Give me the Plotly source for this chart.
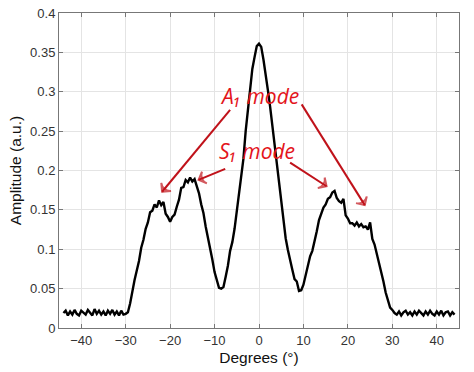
import plotly.graph_objects as go

degrees = [
    -44, -43.5, -43, -42.5, -42, -41.5, -41, -40.5, -40, -39.5, -39, -38.5, -38, -37.5,
    -37, -36.5, -36, -35.5, -35, -34.5, -34, -33.5, -33, -32.5, -32, -31.5, -31, -30.5,
    -30, -29.5, -29, -28.5, -28, -27.5, -27, -26.5, -26, -25.5, -25, -24.5, -24, -23.5,
    -23, -22.5, -22, -21.5, -21, -20.5, -20, -19.5, -19, -18.5, -18, -17.5, -17, -16.5,
    -16, -15.5, -15, -14.5, -14, -13.5, -13, -12.5, -12, -11.5, -11, -10.5, -10, -9.5,
    -9, -8.5, -8, -7.5, -7, -6.5, -6, -5.5, -5, -4.5, -4, -3.5, -3, -2.5,
    -2, -1.5, -1, -0.5, 0, 0.5, 1, 1.5, 2, 2.5, 3, 3.5, 4, 4.5,
    5, 5.5, 6, 6.5, 7, 7.5, 8, 8.5, 9, 9.5, 10, 10.5, 11, 11.5,
    12, 12.5, 13, 13.5, 14, 14.5, 15, 15.5, 16, 16.5, 17, 17.5, 18, 18.5,
    19, 19.5, 20, 20.5, 21, 21.5, 22, 22.5, 23, 23.5, 24, 24.5, 25, 25.5,
    26, 26.5, 27, 27.5, 28, 28.5, 29, 29.5, 30, 30.5, 31, 31.5, 32, 32.5,
    33, 33.5, 34, 34.5, 35, 35.5, 36, 36.5, 37, 37.5, 38, 38.5, 39, 39.5,
    40, 40.5, 41, 41.5, 42, 42.5, 43, 43.5, 44,
]

amplitude = [
    0.019, 0.022, 0.016, 0.021, 0.017, 0.023, 0.018, 0.016, 0.022, 0.019, 0.017, 0.023, 0.020, 0.016,
    0.024, 0.018, 0.022, 0.017, 0.021, 0.016, 0.022, 0.018, 0.023, 0.017, 0.021, 0.016, 0.022, 0.017,
    0.018, 0.020, 0.031, 0.047, 0.061, 0.073, 0.085, 0.102, 0.112, 0.126, 0.134, 0.147, 0.149, 0.157,
    0.153, 0.162, 0.156, 0.160, 0.145, 0.141, 0.135, 0.141, 0.144, 0.154, 0.163, 0.178, 0.179, 0.188,
    0.185, 0.191, 0.186, 0.189, 0.179, 0.171, 0.157, 0.146, 0.129, 0.116, 0.099, 0.087, 0.071, 0.061,
    0.051, 0.050, 0.052, 0.065, 0.079, 0.098, 0.109, 0.126, 0.147, 0.168, 0.194, 0.215, 0.250, 0.276,
    0.300, 0.329, 0.344, 0.358, 0.361, 0.357, 0.341, 0.323, 0.302, 0.281, 0.257, 0.233, 0.204, 0.186,
    0.162, 0.139, 0.114, 0.099, 0.084, 0.074, 0.062, 0.059, 0.047, 0.048, 0.055, 0.067, 0.079, 0.091,
    0.098, 0.113, 0.123, 0.137, 0.144, 0.153, 0.157, 0.164, 0.166, 0.172, 0.174, 0.165, 0.161, 0.159,
    0.164, 0.143, 0.139, 0.133, 0.133, 0.130, 0.134, 0.129, 0.132, 0.128, 0.129, 0.125, 0.134, 0.113,
    0.106, 0.094, 0.086, 0.071, 0.059, 0.045, 0.036, 0.026, 0.023, 0.019, 0.017, 0.021, 0.016, 0.020,
    0.022, 0.017, 0.020, 0.016, 0.021, 0.017, 0.022, 0.019, 0.016, 0.021, 0.017, 0.022, 0.018, 0.016,
    0.021, 0.017, 0.022, 0.016, 0.020, 0.021, 0.016, 0.020, 0.017,
]

x_ticks = [-40, -30, -20, -10, 0, 10, 20, 30, 40]
y_ticks = [0, 0.05, 0.1, 0.15, 0.2, 0.25, 0.3, 0.35, 0.4]
y_tick_labels = ["0", "0.05", "0.1", "0.15", "0.2", "0.25", "0.3", "0.35", "0.4"]

# annotation labels and arrows (tail -> tip) in data units
mode_labels = ["<i>A₁ mode</i>", "<i>S₁ mode</i>"]
label_x = [0.2, -0.4]
label_y = [0.294, 0.2245]
arrow_tail_x = [-6.5, 9.6, -7.6, 7.0]
arrow_tail_y = [0.277, 0.284, 0.202, 0.210]
arrow_tip_x = [-21.8, 23.8, -13.6, 15.2]
arrow_tip_y = [0.173, 0.156, 0.188, 0.180]

fig = go.Figure()
fig.add_trace(go.Scatter(x=degrees, y=amplitude, mode="lines",
                         line=dict(color="black", width=2.4), showlegend=False))

arrow_color = "#c0121a"
for tx, ty, hx, hy in zip(arrow_tail_x, arrow_tail_y, arrow_tip_x, arrow_tip_y):
    fig.add_trace(go.Scatter(
        x=[tx, hx], y=[ty, hy], mode="lines+markers", showlegend=False, hoverinfo="skip",
        line=dict(color=arrow_color, width=2),
        marker=dict(symbol="arrow-wide-open", size=[0, 9], angleref="previous",
                    color=arrow_color, line=dict(color=arrow_color, width=2)),
    ))

annotations = []
for t, lx, ly in zip(mode_labels, label_x, label_y):
    annotations.append(dict(x=lx, y=ly, xref="x", yref="y", text=t, showarrow=False,
                            font=dict(family="Open Sans, DejaVu Sans", size=21, color="#e3141b")))

axis_common = dict(
    showline=True, linecolor="#777", linewidth=1, mirror="ticks",
    ticks="inside", ticklen=4, tickcolor="#777",
    showgrid=True, gridcolor="#e4e4e4", gridwidth=1, zeroline=False, automargin=False,
    tickfont=dict(family="Liberation Sans", size=13, color="#333"),
)

fig.update_layout(
    width=474, height=372,
    margin=dict(l=58.5, r=14.5, t=12.7, b=43.7),
    paper_bgcolor="white", plot_bgcolor="white",
    xaxis=dict(range=[-45, 45], tickvals=x_ticks, **axis_common,
               title=dict(text="Degrees (°)", standoff=5,
                          font=dict(family="Liberation Sans", size=15.5, color="#111"))),
    yaxis=dict(range=[0, 0.4], tickvals=y_ticks, ticktext=y_tick_labels, **axis_common,
               title=dict(text="Amplitude (a.u.)", standoff=4,
                          font=dict(family="Liberation Sans", size=15.5, color="#111"))),
    annotations=annotations,
)

fig.write_html("out.html", config={"displayModeBar": False},
               post_script="document.body.style.margin='0';")
